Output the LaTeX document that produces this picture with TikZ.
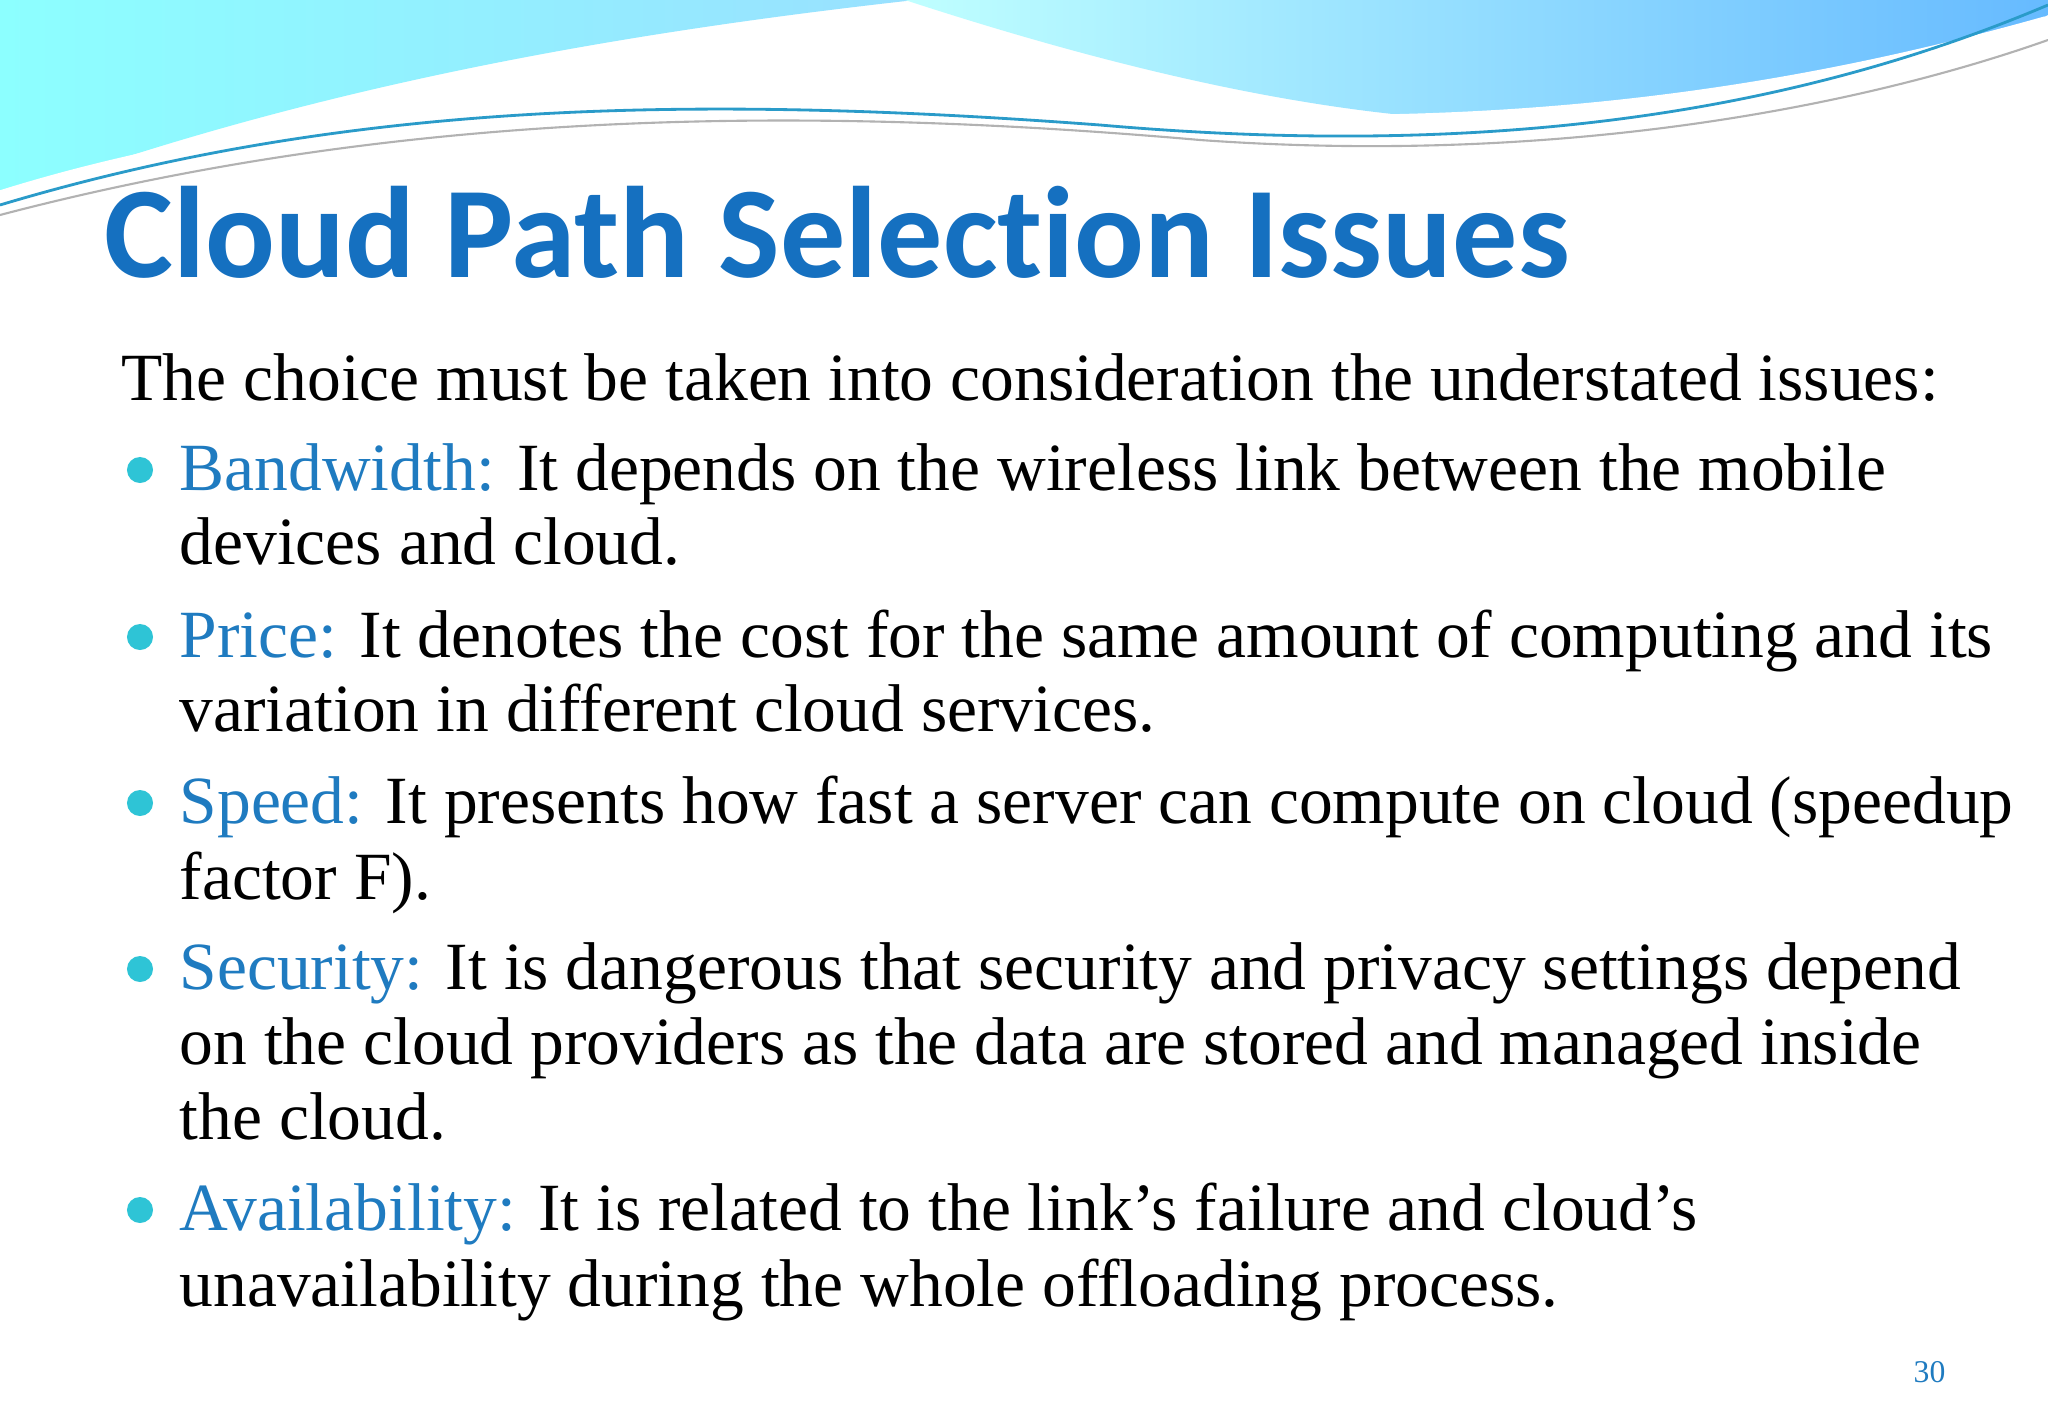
\documentclass[tikz,border=0pt]{standalone}
\usepackage{fontspec}
\setmainfont{Liberation Serif}
\newfontfamily\titlefont[Ligatures=NoCommon]{Carlito}
\definecolor{titleblue}{HTML}{1570C0}
\definecolor{keyblue}{HTML}{1F7BC0}
\definecolor{bul}{HTML}{2EC4D6}
\begin{document}
\begin{tikzpicture}[x=0.01cm,y=-0.01cm,
  body/.style={anchor=base west,inner sep=0,font=\fontsize{19.2}{24}\selectfont},
  bull/.style={circle,fill=bul,inner sep=0,minimum size=0.26cm},
  key/.style={text=keyblue}]
\useasboundingbox (0,0) rectangle (2048,1418);
\fill[white] (0,0) rectangle (2048,1418);
% waves
\shade[left color=cyan!45!white,right color=blue!30!cyan!40!white]
 (0,0) -- (0,200) .. controls (300,90) and (600,35) .. (915,0) -- cycle;
\shade[left color=cyan!25!white,right color=blue!45!cyan!60!white]
 (905,0) .. controls (1150,80) and (1350,120) .. (1520,122) .. controls (1750,122) and (1950,60) .. (2048,15) -- (2048,0) -- cycle;
\draw[white,line width=8pt] (0,205) .. controls (300,110) and (700,90) .. (1100,120) .. controls (1500,150) and (1800,100) .. (2048,30);
\draw[cyan!60!teal,line width=0.8pt] (0,205) .. controls (350,100) and (700,95) .. (1100,125) .. controls (1500,160) and (1800,110) .. (2048,5);
\draw[gray!60,line width=0.6pt] (0,215) .. controls (400,110) and (800,105) .. (1200,140) .. controls (1550,165) and (1850,110) .. (2048,40);
% title
\node[anchor=base west,inner sep=0,text=titleblue,font=\titlefont\bfseries\fontsize{37}{40}\selectfont] (title) at (104,277) {Cloud Path Selection Issues};
% body
\node[body] (intro) at (121,400) {The choice must be taken into consideration the understated issues:};
\node[bull] (b1) at (140,470) {};
\node[body] (l1) at (179,490) {\textcolor{keyblue}{Bandwidth:} It depends on the wireless link between the mobile};
\node[body] (l1b) at (179,564) {devices and cloud.};
\node[bull] (b2) at (140,637) {};
\node[body] (l2) at (179,657) {\textcolor{keyblue}{Price:} It denotes the cost for the same amount of computing and its};
\node[body] (l2b) at (179,731) {variation in different cloud services.};
\node[bull] (b3) at (140,803) {};
\node[body] (l3) at (179,823) {\textcolor{keyblue}{Speed:} It presents how fast a server can compute on cloud (speedup};
\node[body] (l3b) at (179,899) {factor F).};
\node[bull] (b4) at (140,969) {};
\node[body] (l4) at (179,989) {\textcolor{keyblue}{Security:} It is dangerous that security and privacy settings depend};
\node[body] (l4b) at (179,1064) {on the cloud providers as the data are stored and managed inside};
\node[body] (l4c) at (179,1139) {the cloud.};
\node[bull] (b5) at (140,1210) {};
\node[body] (l5) at (179,1230) {\textcolor{keyblue}{Availability:} It is related to the link’s failure and cloud’s};
\node[body] (l5b) at (179,1306) {unavailability during the whole offloading process.};
\node[anchor=base west,inner sep=0,text=keyblue,font=\fontsize{9}{10}\selectfont] (pg) at (1913,1382) {30};
\end{tikzpicture}
\end{document}
